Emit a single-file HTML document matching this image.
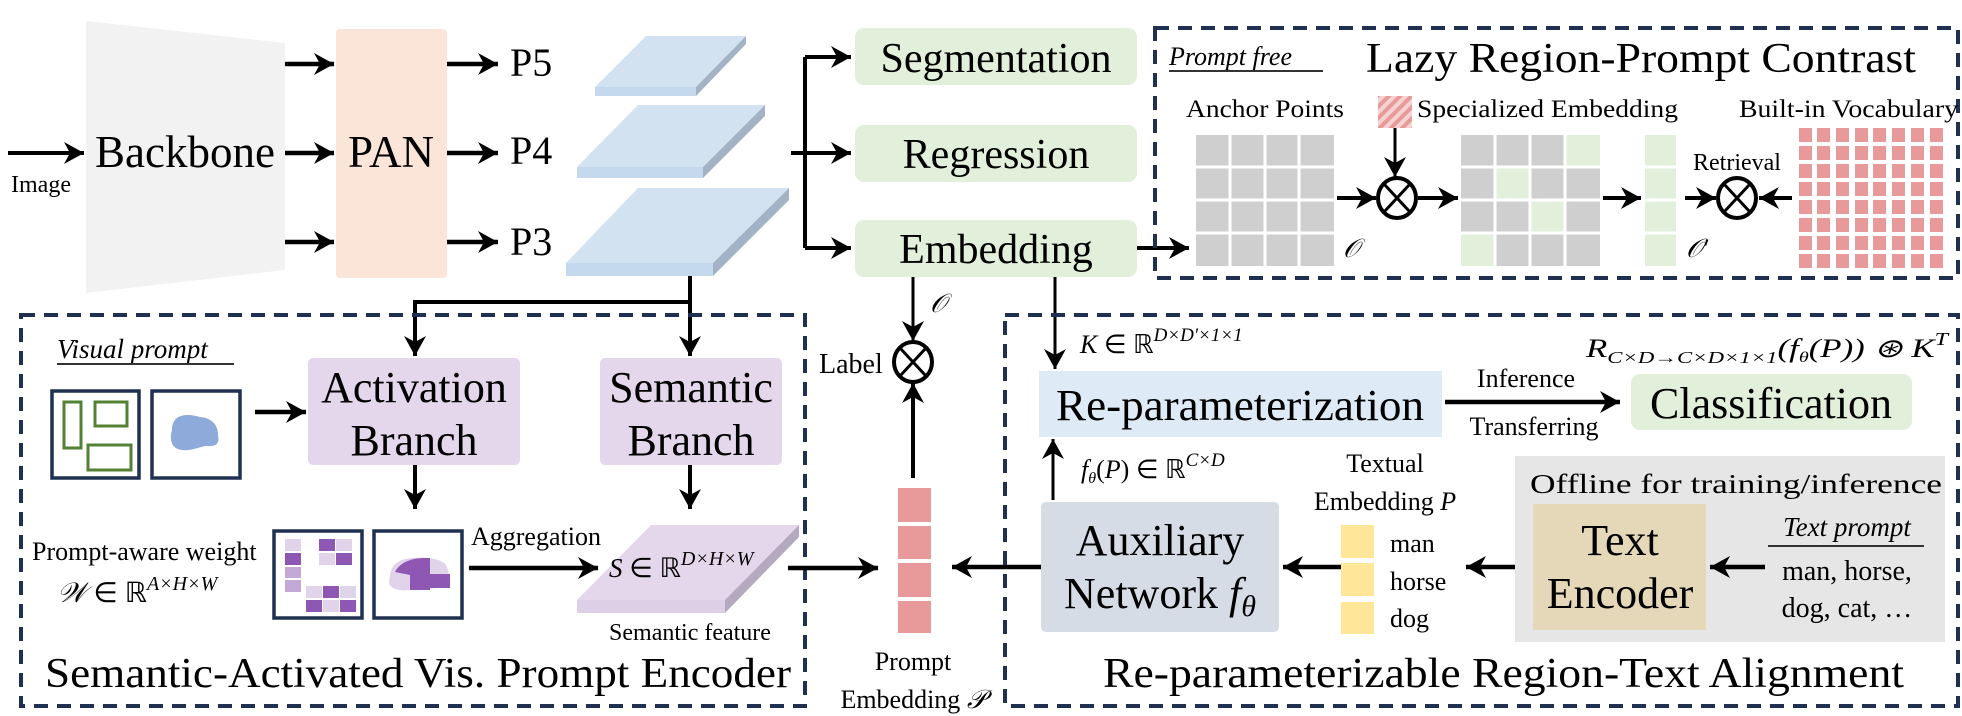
<!DOCTYPE html>
<html><head><meta charset="utf-8"><style>
html,body{margin:0;padding:0;background:#fff}
svg{display:block}
text{font-family:"Liberation Serif",serif;fill:#000}
.it{font-style:italic}
</style></head><body>
<svg width="1962" height="716" viewBox="0 0 1962 716" xmlns="http://www.w3.org/2000/svg">
<defs>
<marker id="a" markerUnits="userSpaceOnUse" markerWidth="24" markerHeight="24" refX="20" refY="12" orient="auto">
<path d="M0,1 L20,12 L0,23 L6,12 Z" fill="#000"/>
</marker>
<pattern id="hatch" patternUnits="userSpaceOnUse" width="8" height="8" patternTransform="rotate(45)">
<rect width="8" height="8" fill="#f6d3d3"/><rect width="4" height="8" fill="#e8999a"/>
</pattern>
</defs>
<g stroke="#000" stroke-width="4" fill="none">
<!-- left flow -->
<line x1="8" y1="153" x2="84" y2="153" marker-end="url(#a)"/>
</g>
<polygon points="86,21 285,43 285,270 86,293" fill="#f2f2f2"/>
<rect x="336" y="29" width="111" height="249" rx="4" fill="#fae5d8"/>
<text x="185" y="167" font-size="45" text-anchor="middle">Backbone</text>
<text x="391" y="167" font-size="45" text-anchor="middle">PAN</text>
<text x="11" y="192" font-size="24">Image</text>
<g stroke="#000" stroke-width="4.5" fill="none" marker-end="url(#a)">
<line x1="285" y1="64" x2="334" y2="64"/>
<line x1="285" y1="153" x2="334" y2="153"/>
<line x1="285" y1="242" x2="334" y2="242"/>
<line x1="447" y1="64" x2="498" y2="64"/>
<line x1="447" y1="153" x2="498" y2="153"/>
<line x1="447" y1="242" x2="498" y2="242"/>
</g>
<text x="510" y="76" font-size="40">P5</text>
<text x="510" y="164" font-size="40">P4</text>
<text x="510" y="255" font-size="40">P3</text>
<!-- slabs -->
<g>
<polygon points="646,36 746,36 696,87 595,87" fill="#d3e2f1"/>
<rect x="595" y="87" width="101" height="9" fill="#c5d9ee"/>
<polygon points="696,87 746,36 746,44 696,96" fill="#a3b3c5"/>
<polygon points="638,105 765,105 703,167 577,167" fill="#d3e2f1"/>
<rect x="577" y="167" width="126" height="11" fill="#c5d9ee"/>
<polygon points="703,167 765,105 765,116 703,178" fill="#a3b3c5"/>
<polygon points="638,188 789,188 713,263 566,263" fill="#d3e2f1"/>
<rect x="566" y="263" width="147" height="13" fill="#c5d9ee"/>
<polygon points="713,263 789,188 789,200 713,276" fill="#a3b3c5"/>
</g>
<!-- heads -->
<g stroke="#000" stroke-width="4" fill="none">
<line x1="791" y1="153" x2="805" y2="153"/>
<line x1="805" y1="57" x2="805" y2="248"/>
<line x1="805" y1="57" x2="851" y2="57" marker-end="url(#a)"/>
<line x1="805" y1="153" x2="851" y2="153" marker-end="url(#a)"/>
<line x1="805" y1="248" x2="851" y2="248" marker-end="url(#a)"/>
<polyline points="690,276 690,302 415,302"/>
<line x1="415" y1="300" x2="415" y2="356" marker-end="url(#a)"/>
<line x1="690" y1="300" x2="690" y2="356" marker-end="url(#a)"/>
<line x1="913" y1="277" x2="913" y2="341" stroke-width="3" marker-end="url(#a)"/>
<line x1="913" y1="478" x2="913" y2="383" marker-end="url(#a)"/>
<line x1="1137" y1="248" x2="1189" y2="248" marker-end="url(#a)"/>
<line x1="1055" y1="277" x2="1055" y2="369" stroke-width="3" marker-end="url(#a)"/>
<line x1="1053" y1="500" x2="1053" y2="439" stroke-width="3" marker-end="url(#a)"/>
</g>
<rect x="855" y="28" width="282" height="57" rx="9" fill="#e2efda"/>
<rect x="855" y="125" width="282" height="57" rx="9" fill="#e2efda"/>
<rect x="855" y="220" width="282" height="57" rx="9" fill="#e2efda"/>
<text x="996" y="72" font-size="42" text-anchor="middle">Segmentation</text>
<text x="996" y="168" font-size="42" text-anchor="middle">Regression</text>
<text x="996" y="263" font-size="42" text-anchor="middle">Embedding</text>
<text x="930" y="312" font-size="26" class="it">𝒪</text>
<!-- label otimes -->
<ellipse cx="913" cy="362" rx="19" ry="20" fill="#fff" stroke="#000" stroke-width="4"/>
<path d="M900,348 L926,376 M926,348 L900,376" stroke="#000" stroke-width="3"/>
<text x="819" y="373" font-size="28">Label</text>
<!-- prompt embedding stack -->
<rect x="898" y="488" width="33" height="34" fill="#e8999a"/>
<rect x="898" y="526" width="33" height="33" fill="#e8999a"/>
<rect x="898" y="563" width="33" height="34" fill="#e8999a"/>
<rect x="898" y="601" width="33" height="32" fill="#e8999a"/>
<text x="913" y="670" font-size="26" text-anchor="middle">Prompt</text>
<text x="913" y="708" font-size="26" text-anchor="middle">Embedding <tspan class="it">𝒫</tspan></text>
<!-- left dashed box -->
<rect x="21" y="315" width="784" height="391" fill="none" stroke="#1f3050" stroke-width="4" stroke-dasharray="14,9"/>
<text x="57" y="358" font-size="27" class="it">Visual prompt</text>
<line x1="57" y1="364" x2="234" y2="364" stroke="#333" stroke-width="2"/>
<rect x="52" y="391" width="87" height="87" fill="#fff" stroke="#1f3050" stroke-width="3.5"/>
<rect x="152" y="391" width="88" height="87" fill="#fff" stroke="#1f3050" stroke-width="3.5"/>
<g fill="none" stroke="#548235" stroke-width="3">
<rect x="64" y="402" width="17" height="46"/><rect x="95" y="402" width="32" height="24"/><rect x="88" y="445" width="43" height="25"/>
</g>
<path d="M172,430 C172,412 190,414 200,417 C212,418 218,425 218,435 C220,444 216,447 205,446 C194,449 186,452 178,449 C170,446 170,437 172,430 Z" fill="#8eaadb"/>
<line x1="255" y1="412" x2="306" y2="412" stroke="#000" stroke-width="4.5" marker-end="url(#a)"/>
<rect x="308" y="358" width="212" height="107" rx="5" fill="#e4d7ec"/>
<rect x="600" y="358" width="182" height="107" rx="5" fill="#e4d7ec"/>
<text x="414" y="402" font-size="44" text-anchor="middle">Activation</text>
<text x="414" y="455" font-size="44" text-anchor="middle">Branch</text>
<text x="691" y="402" font-size="44" text-anchor="middle">Semantic</text>
<text x="691" y="455" font-size="44" text-anchor="middle">Branch</text>
<g stroke="#000" stroke-width="4" marker-end="url(#a)">
<line x1="415" y1="465" x2="415" y2="509"/>
<line x1="690" y1="465" x2="690" y2="509"/>
</g>
<text x="32" y="560" font-size="26">Prompt-aware weight</text>
<text x="57" y="602" font-size="28" class="it">𝒲 <tspan font-style="normal">∈ ℝ</tspan><tspan dy="-12" font-size="20">A×H×W</tspan></text>
<rect x="274" y="531" width="88" height="87" fill="#fff" stroke="#1f3050" stroke-width="3.5"/>
<rect x="374" y="531" width="88" height="87" fill="#fff" stroke="#1f3050" stroke-width="3.5"/>
<g>
<rect x="285" y="539" width="16" height="12" fill="#e0d3ea"/><rect x="285" y="553" width="16" height="12" fill="#8e57b4"/>
<rect x="285" y="567" width="16" height="11" fill="#c4a8d8"/><rect x="285" y="580" width="16" height="12" fill="#c4a8d8"/>
<rect x="319" y="539" width="16" height="12" fill="#8e57b4"/><rect x="336" y="539" width="16" height="12" fill="#e0d3ea"/>
<rect x="319" y="553" width="16" height="12" fill="#e0d3ea"/><rect x="336" y="553" width="16" height="12" fill="#8e57b4"/>
<rect x="306" y="586" width="16" height="12" fill="#e0d3ea"/><rect x="323" y="586" width="16" height="12" fill="#8e57b4"/><rect x="340" y="586" width="16" height="12" fill="#e0d3ea"/>
<rect x="306" y="600" width="16" height="12" fill="#8e57b4"/><rect x="323" y="600" width="16" height="12" fill="#e0d3ea"/><rect x="340" y="600" width="16" height="12" fill="#8e57b4"/>
</g>
<path d="M390,575 C392,562 402,559 412,558 C425,557 440,558 446,565 C450,573 450,582 450,587 L410,590 C400,591 390,590 389,582 Z" fill="#e0d3ea"/>
<path d="M395,572 C400,562 412,558 425,558 L430,558 L430,590 L410,590 L410,575 Z" fill="#8e57b4"/>
<rect x="430" y="574" width="20" height="14" fill="#8e57b4"/>
<text x="471" y="545" font-size="26">Aggregation</text>
<line x1="469" y1="568" x2="598" y2="568" stroke="#000" stroke-width="4.5" marker-end="url(#a)"/>
<polygon points="651,525 799,525 725,600 577,600" fill="#e4d7ec"/>
<rect x="577" y="600" width="148" height="13" fill="#ddd0e6"/>
<polygon points="725,600 799,525 799,537 725,613" fill="#b4a9bf"/>
<text x="609" y="577" font-size="27" class="it">S <tspan font-style="normal">∈ ℝ</tspan><tspan dy="-12" font-size="20">D×H×W</tspan></text>
<text x="690" y="640" font-size="24" text-anchor="middle">Semantic feature</text>
<text x="45" y="687" font-size="42" textLength="746" lengthAdjust="spacingAndGlyphs">Semantic-Activated Vis. Prompt Encoder</text>
<g stroke="#000" stroke-width="4.5" marker-end="url(#a)">
<line x1="788" y1="568" x2="878" y2="568"/>
<line x1="1041" y1="567" x2="952" y2="567"/>
</g>
<!-- Lazy region -->
<rect x="1155" y="28" width="803" height="250" fill="none" stroke="#1f3050" stroke-width="4" stroke-dasharray="14,9"/>
<text x="1169" y="65" font-size="26" class="it">Prompt free</text>
<line x1="1169" y1="71" x2="1323" y2="71" stroke="#333" stroke-width="2"/>
<text x="1366" y="72" font-size="42" textLength="550" lengthAdjust="spacingAndGlyphs">Lazy Region-Prompt Contrast</text>
<text x="1186" y="117" font-size="25" textLength="158" lengthAdjust="spacingAndGlyphs">Anchor Points</text>
<rect x="1378" y="96" width="34" height="32" fill="url(#hatch)"/>
<text x="1417" y="117" font-size="25" textLength="261" lengthAdjust="spacingAndGlyphs">Specialized Embedding</text>
<text x="1739" y="117" font-size="25" textLength="219" lengthAdjust="spacingAndGlyphs">Built-in Vocabulary</text>
<g id="g1">
<rect x="1196" y="135" width="138" height="131" fill="#d0cfd0"/>
</g>
<rect x="1461" y="135" width="139" height="131" fill="#d0cfd0"/>
<g fill="#e2efda">
<rect x="1566" y="135" width="34" height="31"/><rect x="1496" y="168" width="33" height="31"/>
<rect x="1531" y="201" width="33" height="31"/><rect x="1461" y="234" width="33" height="32"/>
<rect x="1645" y="135" width="31" height="131"/>
</g>
<g stroke="#fff" stroke-width="3">
<line x1="1230" y1="135" x2="1230" y2="266"/><line x1="1265" y1="135" x2="1265" y2="266"/><line x1="1299" y1="135" x2="1299" y2="266"/>
<line x1="1196" y1="167" x2="1334" y2="167"/><line x1="1196" y1="200" x2="1334" y2="200"/><line x1="1196" y1="233" x2="1334" y2="233"/>
<line x1="1495" y1="135" x2="1495" y2="266"/><line x1="1530" y1="135" x2="1530" y2="266"/><line x1="1565" y1="135" x2="1565" y2="266"/>
<line x1="1461" y1="167" x2="1600" y2="167"/><line x1="1461" y1="200" x2="1600" y2="200"/><line x1="1461" y1="233" x2="1600" y2="233"/>
<line x1="1645" y1="167" x2="1676" y2="167"/><line x1="1645" y1="200" x2="1676" y2="200"/><line x1="1645" y1="233" x2="1676" y2="233"/>
</g>
<text x="1343" y="257" font-size="26" class="it">𝒪</text>
<text x="1686" y="257" font-size="26" class="it">𝒪′</text>
<text x="1737" y="170" font-size="24" text-anchor="middle">Retrieval</text>
<g stroke="#000" stroke-width="4" fill="none">
<line x1="1395" y1="128" x2="1395" y2="177" stroke-width="3" marker-end="url(#a)"/>
<line x1="1337" y1="198" x2="1376" y2="198" marker-end="url(#a)"/>
<line x1="1418" y1="198" x2="1458" y2="198" marker-end="url(#a)"/>
<line x1="1603" y1="198" x2="1641" y2="198" marker-end="url(#a)"/>
<line x1="1685" y1="198" x2="1716" y2="198" marker-end="url(#a)"/>
<line x1="1792" y1="198" x2="1759" y2="198" marker-end="url(#a)"/>
</g>
<ellipse cx="1397" cy="198" rx="19" ry="20" fill="#fff" stroke="#000" stroke-width="4"/>
<path d="M1384,184 L1410,212 M1410,184 L1384,212" stroke="#000" stroke-width="3"/>
<ellipse cx="1737" cy="198" rx="19" ry="20" fill="#fff" stroke="#000" stroke-width="4"/>
<path d="M1724,184 L1750,212 M1750,184 L1724,212" stroke="#000" stroke-width="3"/>
<g fill="#e8999a">
<rect x="1799" y="128" width="13" height="14"/><rect x="1817" y="128" width="13" height="14"/><rect x="1836" y="128" width="13" height="14"/><rect x="1855" y="128" width="13" height="14"/><rect x="1873" y="128" width="13" height="14"/><rect x="1892" y="128" width="13" height="14"/><rect x="1911" y="128" width="13" height="14"/><rect x="1930" y="128" width="13" height="14"/>
</g>
<g fill="#e8999a">
<use href="#vr" y="0"/>
</g>
<g id="vr2"></g>
<!-- vocab rows via repeated groups -->
<g fill="#e8999a">
<g transform="translate(0,18)"><rect x="1799" y="128" width="13" height="14"/><rect x="1817" y="128" width="13" height="14"/><rect x="1836" y="128" width="13" height="14"/><rect x="1855" y="128" width="13" height="14"/><rect x="1873" y="128" width="13" height="14"/><rect x="1892" y="128" width="13" height="14"/><rect x="1911" y="128" width="13" height="14"/><rect x="1930" y="128" width="13" height="14"/></g>
<g transform="translate(0,36)"><rect x="1799" y="128" width="13" height="14"/><rect x="1817" y="128" width="13" height="14"/><rect x="1836" y="128" width="13" height="14"/><rect x="1855" y="128" width="13" height="14"/><rect x="1873" y="128" width="13" height="14"/><rect x="1892" y="128" width="13" height="14"/><rect x="1911" y="128" width="13" height="14"/><rect x="1930" y="128" width="13" height="14"/></g>
<g transform="translate(0,54)"><rect x="1799" y="128" width="13" height="14"/><rect x="1817" y="128" width="13" height="14"/><rect x="1836" y="128" width="13" height="14"/><rect x="1855" y="128" width="13" height="14"/><rect x="1873" y="128" width="13" height="14"/><rect x="1892" y="128" width="13" height="14"/><rect x="1911" y="128" width="13" height="14"/><rect x="1930" y="128" width="13" height="14"/></g>
<g transform="translate(0,72)"><rect x="1799" y="128" width="13" height="14"/><rect x="1817" y="128" width="13" height="14"/><rect x="1836" y="128" width="13" height="14"/><rect x="1855" y="128" width="13" height="14"/><rect x="1873" y="128" width="13" height="14"/><rect x="1892" y="128" width="13" height="14"/><rect x="1911" y="128" width="13" height="14"/><rect x="1930" y="128" width="13" height="14"/></g>
<g transform="translate(0,90)"><rect x="1799" y="128" width="13" height="14"/><rect x="1817" y="128" width="13" height="14"/><rect x="1836" y="128" width="13" height="14"/><rect x="1855" y="128" width="13" height="14"/><rect x="1873" y="128" width="13" height="14"/><rect x="1892" y="128" width="13" height="14"/><rect x="1911" y="128" width="13" height="14"/><rect x="1930" y="128" width="13" height="14"/></g>
<g transform="translate(0,108)"><rect x="1799" y="128" width="13" height="14"/><rect x="1817" y="128" width="13" height="14"/><rect x="1836" y="128" width="13" height="14"/><rect x="1855" y="128" width="13" height="14"/><rect x="1873" y="128" width="13" height="14"/><rect x="1892" y="128" width="13" height="14"/><rect x="1911" y="128" width="13" height="14"/><rect x="1930" y="128" width="13" height="14"/></g>
<g transform="translate(0,126)"><rect x="1799" y="128" width="13" height="14"/><rect x="1817" y="128" width="13" height="14"/><rect x="1836" y="128" width="13" height="14"/><rect x="1855" y="128" width="13" height="14"/><rect x="1873" y="128" width="13" height="14"/><rect x="1892" y="128" width="13" height="14"/><rect x="1911" y="128" width="13" height="14"/><rect x="1930" y="128" width="13" height="14"/></g>
</g>
<!-- right dashed box -->
<rect x="1005" y="315" width="953" height="391" fill="none" stroke="#1f3050" stroke-width="4" stroke-dasharray="14,9"/>
<text x="1080" y="353" font-size="26" class="it">K <tspan font-style="normal">∈ ℝ</tspan><tspan dy="-12" font-size="19">D×D′×1×1</tspan></text>
<text x="1586" y="357" font-size="26" class="it" textLength="362" lengthAdjust="spacingAndGlyphs">R<tspan dy="6" font-size="17">C×D→C×D×1×1</tspan><tspan dy="-6">(f</tspan><tspan dy="5" font-size="15">θ</tspan><tspan dy="-5">(P)) ⊛ K</tspan><tspan dy="-12" font-size="18">T</tspan></text>
<rect x="1039" y="371" width="403" height="66" fill="#deebf7"/>
<text x="1240" y="420" font-size="44" text-anchor="middle" textLength="368" lengthAdjust="spacingAndGlyphs">Re-parameterization</text>
<line x1="1445" y1="402" x2="1620" y2="402" stroke="#000" stroke-width="4.5" marker-end="url(#a)"/>
<text x="1526" y="387" font-size="26" text-anchor="middle">Inference</text>
<text x="1534" y="435" font-size="26" text-anchor="middle">Transferring</text>
<rect x="1631" y="374" width="281" height="56" rx="9" fill="#e2efda"/>
<text x="1771" y="418" font-size="44" text-anchor="middle">Classification</text>
<text x="1081" y="478" font-size="26" class="it">f<tspan dy="5" font-size="16">θ</tspan><tspan dy="-5" font-style="normal">(</tspan>P<tspan font-style="normal">) ∈ ℝ</tspan><tspan dy="-12" font-size="19">C×D</tspan></text>
<rect x="1041" y="502" width="238" height="130" rx="5" fill="#d6dce5"/>
<text x="1160" y="555" font-size="44" text-anchor="middle">Auxiliary</text>
<text x="1160" y="608" font-size="44" text-anchor="middle">Network <tspan class="it">f</tspan><tspan class="it" dy="8" font-size="30">θ</tspan></text>
<text x="1385" y="472" font-size="26" text-anchor="middle">Textual</text>
<text x="1385" y="510" font-size="26" text-anchor="middle">Embedding <tspan class="it">P</tspan></text>
<rect x="1341" y="525" width="33" height="33" fill="#ffe699"/>
<rect x="1341" y="563" width="33" height="33" fill="#ffe699"/>
<rect x="1341" y="602" width="33" height="32" fill="#ffe699"/>
<text x="1390" y="552" font-size="26">man</text>
<text x="1390" y="590" font-size="26">horse</text>
<text x="1390" y="627" font-size="26">dog</text>
<line x1="1341" y1="567" x2="1283" y2="567" stroke="#000" stroke-width="4.5" marker-end="url(#a)"/>
<rect x="1515" y="456" width="430" height="186" fill="#e7e6e6"/>
<line x1="1515" y1="567" x2="1466" y2="567" stroke="#000" stroke-width="4.5" marker-end="url(#a)"/>
<text x="1530" y="493" font-size="27" textLength="412" lengthAdjust="spacingAndGlyphs">Offline for training/inference</text>
<rect x="1533" y="504" width="173" height="126" fill="#e5d8b8"/>
<text x="1620" y="555" font-size="44" text-anchor="middle">Text</text>
<text x="1620" y="608" font-size="44" text-anchor="middle">Encoder</text>
<line x1="1765" y1="567" x2="1710" y2="567" stroke="#000" stroke-width="4.5" marker-end="url(#a)"/>
<text x="1847" y="536" font-size="27" class="it" text-anchor="middle">Text prompt</text>
<line x1="1768" y1="546" x2="1924" y2="546" stroke="#333" stroke-width="2"/>
<text x="1847" y="580" font-size="28" text-anchor="middle">man, horse,</text>
<text x="1847" y="617" font-size="28" text-anchor="middle">dog, cat, …</text>
<text x="1103" y="687" font-size="42" textLength="801" lengthAdjust="spacingAndGlyphs">Re-parameterizable Region-Text Alignment</text>
</svg>
</body></html>
